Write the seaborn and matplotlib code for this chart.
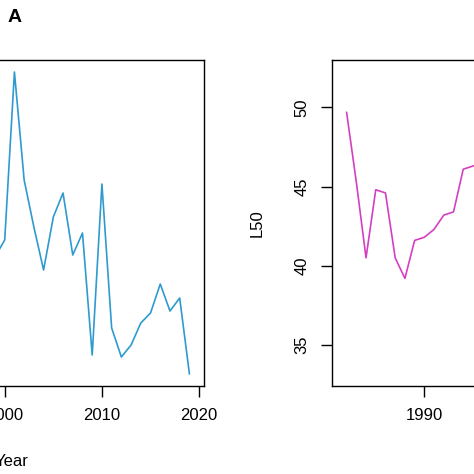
import matplotlib
matplotlib.use("Agg")
import matplotlib.pyplot as plt
import seaborn as sns

sns.set_style("white")
plt.rcParams['font.family'] = ['Liberation Sans', 'DejaVu Sans']
plt.rcParams['text.color'] = 'black'
plt.rcParams['axes.labelcolor'] = 'black'
plt.rcParams['xtick.color'] = 'black'
plt.rcParams['ytick.color'] = 'black'

years_a = list(range(1999, 2020))
vals_a = [12.9, 14.6, 31.4, 20.6, 15.9, 11.6, 16.9, 19.3, 13.1, 15.3, 3.1,
          20.2, 5.8, 2.9, 4.1, 6.3, 7.3, 10.2, 7.5, 8.8, 1.2]
years_b = list(range(1982, 1997))
vals_b = [49.7, 45.3, 40.5, 44.8, 44.6, 40.5, 39.2, 41.6, 41.8, 42.3, 43.2,
          43.4, 46.1, 46.3, 46.5]

fig = plt.figure(figsize=(4.74, 4.74), dpi=100)
W = 384 / 474
axA = fig.add_axes([(204 - 384) / 474, 1 - 386 / 474, W, 326 / 474])
axB = fig.add_axes([332 / 474, 1 - 386 / 474, W, 326 / 474])

sns.lineplot(x=years_a, y=vals_a, ax=axA, color="#2E9AD0", lw=1.2)
sns.lineplot(x=years_b, y=vals_b, ax=axB, color="#D53FC2", lw=1.2)

axA.set_xlim(1981, 2020.5)
axA.set_ylim(0, 32.6)
axA.set_xticks([1990, 2000, 2010, 2020])
axA.set_yticks([])
axA.set_xlabel("Year", fontsize=12, labelpad=22)

axB.set_xlim(1980.5, 2020)
axB.set_ylim(32.4, 53.0)
axB.set_xticks([1990, 2000, 2010, 2020])
axB.set_yticks([35, 40, 45, 50])
axB.set_ylabel("L50", fontsize=12, labelpad=22)
for lab in axB.get_yticklabels():
    lab.set_rotation(90)
    lab.set_va("center")

for ax in (axA, axB):
    for s in ax.spines.values():
        s.set_color("black")
        s.set_linewidth(1)
    ax.tick_params(axis="both", direction="out", length=8, width=1,
                   labelsize=12, color="black", bottom=True, left=True, pad=8)

fig.text(8 / 474, 1 - 18 / 474, "A", fontsize=14, fontweight="bold", va="center")
fig.savefig("out.png", dpi=100)
